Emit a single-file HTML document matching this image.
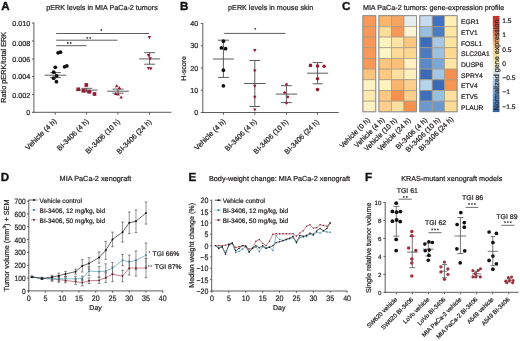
<!DOCTYPE html>
<html><head><meta charset="utf-8"><style>
html,body{margin:0;padding:0;background:#fff;}
svg{display:block;filter:blur(0.35px);}
text{font-family:"Liberation Sans",sans-serif;text-rendering:geometricPrecision;}
</style></head><body>
<svg width="520" height="341" viewBox="0 0 520 341">
<rect width="520" height="341" fill="#fff"/>
<text x="1.20" y="10.45" font-size="11.6" text-anchor="start" font-weight="bold" fill="#111" stroke="#111" stroke-width="0.35">A</text>
<text x="46.30" y="10.20" font-size="7.2" text-anchor="start" font-weight="normal" fill="#231f20" stroke="#231f20" stroke-width="0.22">pERK levels in MIA PaCa-2 tumors</text>
<line x1="33.90" y1="22.60" x2="33.90" y2="112.75" stroke="#4a4a4a" stroke-width="0.9"/>
<line x1="33.45" y1="112.30" x2="171.40" y2="112.30" stroke="#4a4a4a" stroke-width="0.9"/>
<line x1="31.90" y1="112.30" x2="33.90" y2="112.30" stroke="#4a4a4a" stroke-width="0.9"/>
<text x="30.20" y="114.65" font-size="7.2" text-anchor="end" font-weight="normal" fill="#231f20" stroke="#231f20" stroke-width="0.22">0</text>
<line x1="31.90" y1="94.50" x2="33.90" y2="94.50" stroke="#4a4a4a" stroke-width="0.9"/>
<text x="30.20" y="97.55" font-size="7.2" text-anchor="end" font-weight="normal" fill="#231f20" stroke="#231f20" stroke-width="0.22">0.002</text>
<line x1="31.90" y1="76.60" x2="33.90" y2="76.60" stroke="#4a4a4a" stroke-width="0.9"/>
<text x="30.20" y="78.55" font-size="7.2" text-anchor="end" font-weight="normal" fill="#231f20" stroke="#231f20" stroke-width="0.22">0.004</text>
<line x1="31.90" y1="59.00" x2="33.90" y2="59.00" stroke="#4a4a4a" stroke-width="0.9"/>
<text x="30.20" y="62.45" font-size="7.2" text-anchor="end" font-weight="normal" fill="#231f20" stroke="#231f20" stroke-width="0.22">0.006</text>
<line x1="31.90" y1="41.00" x2="33.90" y2="41.00" stroke="#4a4a4a" stroke-width="0.9"/>
<text x="30.20" y="45.55" font-size="7.2" text-anchor="end" font-weight="normal" fill="#231f20" stroke="#231f20" stroke-width="0.22">0.008</text>
<line x1="31.90" y1="23.00" x2="33.90" y2="23.00" stroke="#4a4a4a" stroke-width="0.9"/>
<text x="30.20" y="26.30" font-size="7.2" text-anchor="end" font-weight="normal" fill="#231f20" stroke="#231f20" stroke-width="0.22">0.010</text>
<line x1="55.30" y1="112.30" x2="55.30" y2="114.50" stroke="#4a4a4a" stroke-width="0.9"/>
<line x1="86.50" y1="112.30" x2="86.50" y2="114.50" stroke="#4a4a4a" stroke-width="0.9"/>
<line x1="117.90" y1="112.30" x2="117.90" y2="114.50" stroke="#4a4a4a" stroke-width="0.9"/>
<line x1="149.50" y1="112.30" x2="149.50" y2="114.50" stroke="#4a4a4a" stroke-width="0.9"/>
<text x="57.10" y="121.60" font-size="7.35" text-anchor="end" font-weight="normal" fill="#231f20" stroke="#231f20" stroke-width="0.22" transform="rotate(-45 57.10 121.60)">Vehicle (4 h)</text>
<text x="89.30" y="121.80" font-size="7.15" text-anchor="end" font-weight="normal" fill="#231f20" stroke="#231f20" stroke-width="0.22" transform="rotate(-45 89.30 121.80)">BI-3406 (4 h)</text>
<text x="120.50" y="122.00" font-size="7.15" text-anchor="end" font-weight="normal" fill="#231f20" stroke="#231f20" stroke-width="0.22" transform="rotate(-45 120.50 122.00)">BI-3406 (10 h)</text>
<text x="151.90" y="122.20" font-size="7.15" text-anchor="end" font-weight="normal" fill="#231f20" stroke="#231f20" stroke-width="0.22" transform="rotate(-45 151.90 122.20)">BI-3406 (24 h)</text>
<text x="6.20" y="67.30" font-size="7.3" text-anchor="middle" font-weight="normal" fill="#231f20" stroke="#231f20" stroke-width="0.22" transform="rotate(-90 6.20 67.30)">Ratio pERK/total ERK</text>
<line x1="56.20" y1="33.50" x2="149.00" y2="33.50" stroke="#4a4a4a" stroke-width="0.9"/>
<circle cx="101.30" cy="29.90" r="0.9" fill="#333"/>
<line x1="56.20" y1="40.20" x2="117.60" y2="40.20" stroke="#4a4a4a" stroke-width="0.9"/>
<circle cx="87.25" cy="37.80" r="0.9" fill="#333"/>
<circle cx="90.15" cy="37.80" r="0.9" fill="#333"/>
<line x1="56.20" y1="45.70" x2="86.60" y2="45.70" stroke="#4a4a4a" stroke-width="0.9"/>
<circle cx="67.75" cy="43.00" r="0.9" fill="#333"/>
<circle cx="70.65" cy="43.00" r="0.9" fill="#333"/>
<line x1="55.50" y1="72.60" x2="55.50" y2="77.60" stroke="#4a4a4a" stroke-width="0.9"/>
<line x1="50.20" y1="72.60" x2="60.80" y2="72.60" stroke="#4a4a4a" stroke-width="0.9"/>
<line x1="50.20" y1="77.60" x2="60.80" y2="77.60" stroke="#4a4a4a" stroke-width="0.9"/>
<line x1="44.70" y1="75.20" x2="66.30" y2="75.20" stroke="#4a4a4a" stroke-width="0.9"/>
<circle cx="58.10" cy="52.80" r="1.9" fill="#111"/>
<circle cx="60.40" cy="52.20" r="1.9" fill="#111"/>
<circle cx="64.60" cy="66.80" r="1.9" fill="#111"/>
<circle cx="66.80" cy="65.90" r="1.9" fill="#111"/>
<circle cx="55.30" cy="67.30" r="1.9" fill="#111"/>
<circle cx="53.70" cy="72.20" r="1.9" fill="#111"/>
<circle cx="56.70" cy="75.90" r="1.9" fill="#111"/>
<circle cx="53.70" cy="78.20" r="1.9" fill="#111"/>
<circle cx="56.40" cy="81.70" r="1.9" fill="#111"/>
<line x1="86.60" y1="88.30" x2="86.60" y2="91.80" stroke="#4a4a4a" stroke-width="0.9"/>
<line x1="81.30" y1="88.30" x2="91.90" y2="88.30" stroke="#4a4a4a" stroke-width="0.9"/>
<line x1="81.30" y1="91.80" x2="91.90" y2="91.80" stroke="#4a4a4a" stroke-width="0.9"/>
<line x1="75.80" y1="90.10" x2="97.40" y2="90.10" stroke="#4a4a4a" stroke-width="0.9"/>
<rect x="84.45" y="83.15" width="3.7" height="3.7" fill="#981a35"/>
<rect x="76.45" y="87.45" width="3.7" height="3.7" fill="#981a35"/>
<rect x="81.85" y="88.85" width="3.7" height="3.7" fill="#981a35"/>
<rect x="87.25" y="89.95" width="3.7" height="3.7" fill="#981a35"/>
<rect x="92.65" y="92.15" width="3.7" height="3.7" fill="#981a35"/>
<line x1="118.00" y1="89.10" x2="118.00" y2="93.20" stroke="#4a4a4a" stroke-width="0.9"/>
<line x1="112.50" y1="89.10" x2="123.50" y2="89.10" stroke="#4a4a4a" stroke-width="0.9"/>
<line x1="112.50" y1="93.20" x2="123.50" y2="93.20" stroke="#4a4a4a" stroke-width="0.9"/>
<line x1="107.20" y1="91.20" x2="128.80" y2="91.20" stroke="#4a4a4a" stroke-width="0.9"/>
<polygon points="114.95,87.17 118.45,87.17 116.70,84.02" fill="#981a35"/>
<polygon points="117.65,89.28 121.15,89.28 119.40,86.12" fill="#981a35"/>
<polygon points="114.05,95.08 117.55,95.08 115.80,91.92" fill="#981a35"/>
<polygon points="116.35,95.58 119.85,95.58 118.10,92.42" fill="#981a35"/>
<polygon points="119.35,98.58 122.85,98.58 121.10,95.42" fill="#981a35"/>
<line x1="149.60" y1="52.70" x2="149.60" y2="64.20" stroke="#4a4a4a" stroke-width="0.9"/>
<line x1="144.20" y1="52.70" x2="155.00" y2="52.70" stroke="#4a4a4a" stroke-width="0.9"/>
<line x1="144.20" y1="64.20" x2="155.00" y2="64.20" stroke="#4a4a4a" stroke-width="0.9"/>
<line x1="139.10" y1="58.90" x2="160.10" y2="58.90" stroke="#4a4a4a" stroke-width="0.9"/>
<polygon points="147.65,36.02 151.15,36.02 149.40,39.18" fill="#981a35"/>
<polygon points="146.75,54.02 150.25,54.02 148.50,57.18" fill="#981a35"/>
<polygon points="148.45,57.32 151.95,57.32 150.20,60.48" fill="#981a35"/>
<polygon points="146.75,66.92 150.25,66.92 148.50,70.08" fill="#981a35"/>
<polygon points="149.05,67.33 152.55,67.33 150.80,70.48" fill="#981a35"/>
<text x="179.90" y="10.45" font-size="11.6" text-anchor="start" font-weight="bold" fill="#111" stroke="#111" stroke-width="0.35">B</text>
<text x="228.10" y="10.20" font-size="7.2" text-anchor="start" font-weight="normal" fill="#231f20" stroke="#231f20" stroke-width="0.22">pERK levels in mouse skin</text>
<line x1="202.80" y1="23.00" x2="202.80" y2="112.95" stroke="#4a4a4a" stroke-width="0.9"/>
<line x1="202.35" y1="112.50" x2="338.70" y2="112.50" stroke="#4a4a4a" stroke-width="0.9"/>
<line x1="200.80" y1="112.50" x2="202.80" y2="112.50" stroke="#4a4a4a" stroke-width="0.9"/>
<text x="198.30" y="115.05" font-size="7.2" text-anchor="end" font-weight="normal" fill="#231f20" stroke="#231f20" stroke-width="0.22">0</text>
<line x1="200.80" y1="90.25" x2="202.80" y2="90.25" stroke="#4a4a4a" stroke-width="0.9"/>
<text x="198.30" y="92.80" font-size="7.2" text-anchor="end" font-weight="normal" fill="#231f20" stroke="#231f20" stroke-width="0.22">10</text>
<line x1="200.80" y1="68.00" x2="202.80" y2="68.00" stroke="#4a4a4a" stroke-width="0.9"/>
<text x="198.30" y="70.55" font-size="7.2" text-anchor="end" font-weight="normal" fill="#231f20" stroke="#231f20" stroke-width="0.22">20</text>
<line x1="200.80" y1="45.75" x2="202.80" y2="45.75" stroke="#4a4a4a" stroke-width="0.9"/>
<text x="198.30" y="48.30" font-size="7.2" text-anchor="end" font-weight="normal" fill="#231f20" stroke="#231f20" stroke-width="0.22">30</text>
<line x1="200.80" y1="23.50" x2="202.80" y2="23.50" stroke="#4a4a4a" stroke-width="0.9"/>
<text x="198.30" y="26.05" font-size="7.2" text-anchor="end" font-weight="normal" fill="#231f20" stroke="#231f20" stroke-width="0.22">40</text>
<line x1="223.50" y1="112.50" x2="223.50" y2="114.70" stroke="#4a4a4a" stroke-width="0.9"/>
<line x1="254.80" y1="112.50" x2="254.80" y2="114.70" stroke="#4a4a4a" stroke-width="0.9"/>
<line x1="286.40" y1="112.50" x2="286.40" y2="114.70" stroke="#4a4a4a" stroke-width="0.9"/>
<line x1="317.50" y1="112.50" x2="317.50" y2="114.70" stroke="#4a4a4a" stroke-width="0.9"/>
<text x="226.10" y="121.80" font-size="7.35" text-anchor="end" font-weight="normal" fill="#231f20" stroke="#231f20" stroke-width="0.22" transform="rotate(-45 226.10 121.80)">Vehicle (4 h)</text>
<text x="257.20" y="122.00" font-size="7.15" text-anchor="end" font-weight="normal" fill="#231f20" stroke="#231f20" stroke-width="0.22" transform="rotate(-45 257.20 122.00)">BI-3406 (4 h)</text>
<text x="288.60" y="122.20" font-size="7.15" text-anchor="end" font-weight="normal" fill="#231f20" stroke="#231f20" stroke-width="0.22" transform="rotate(-45 288.60 122.20)">BI-3406 (10 h)</text>
<text x="319.50" y="122.40" font-size="7.15" text-anchor="end" font-weight="normal" fill="#231f20" stroke="#231f20" stroke-width="0.22" transform="rotate(-45 319.50 122.40)">BI-3406 (24 h)</text>
<text x="185.80" y="68.40" font-size="7.0" text-anchor="middle" font-weight="normal" fill="#231f20" stroke="#231f20" stroke-width="0.22" transform="rotate(-90 185.80 68.40)">H-score</text>
<line x1="224.20" y1="33.40" x2="285.40" y2="33.40" stroke="#4a4a4a" stroke-width="0.9"/>
<circle cx="255.30" cy="28.80" r="0.9" fill="#333"/>
<line x1="223.40" y1="40.20" x2="223.40" y2="77.40" stroke="#4a4a4a" stroke-width="0.9"/>
<line x1="217.90" y1="40.20" x2="228.90" y2="40.20" stroke="#4a4a4a" stroke-width="0.9"/>
<line x1="217.90" y1="77.40" x2="228.90" y2="77.40" stroke="#4a4a4a" stroke-width="0.9"/>
<line x1="212.90" y1="59.00" x2="233.90" y2="59.00" stroke="#4a4a4a" stroke-width="0.9"/>
<circle cx="223.40" cy="41.20" r="1.85" fill="#111"/>
<circle cx="221.40" cy="47.90" r="1.85" fill="#111"/>
<circle cx="225.60" cy="48.70" r="1.85" fill="#111"/>
<circle cx="223.40" cy="70.20" r="1.85" fill="#111"/>
<circle cx="223.40" cy="85.80" r="1.85" fill="#111"/>
<line x1="254.80" y1="60.50" x2="254.80" y2="106.50" stroke="#4a4a4a" stroke-width="0.9"/>
<line x1="249.50" y1="60.50" x2="260.10" y2="60.50" stroke="#4a4a4a" stroke-width="0.9"/>
<line x1="249.50" y1="106.50" x2="260.10" y2="106.50" stroke="#4a4a4a" stroke-width="0.9"/>
<line x1="244.10" y1="83.50" x2="265.50" y2="83.50" stroke="#4a4a4a" stroke-width="0.9"/>
<polygon points="253.00,48.98 256.60,48.98 254.80,52.22" fill="#981a35"/>
<polygon points="253.00,69.38 256.60,69.38 254.80,72.62" fill="#981a35"/>
<polygon points="253.00,84.68 256.60,84.68 254.80,87.92" fill="#981a35"/>
<polygon points="253.00,95.78 256.60,95.78 254.80,99.02" fill="#981a35"/>
<polygon points="253.00,108.38 256.60,108.38 254.80,111.62" fill="#981a35"/>
<line x1="286.40" y1="85.70" x2="286.40" y2="102.60" stroke="#4a4a4a" stroke-width="0.9"/>
<line x1="281.00" y1="85.70" x2="291.80" y2="85.70" stroke="#4a4a4a" stroke-width="0.9"/>
<line x1="281.00" y1="102.60" x2="291.80" y2="102.60" stroke="#4a4a4a" stroke-width="0.9"/>
<line x1="275.70" y1="94.10" x2="297.10" y2="94.10" stroke="#4a4a4a" stroke-width="0.9"/>
<polygon points="286.5,82.64999999999999 288.15,84.3 286.5,85.95 284.85,84.3" fill="#981a35"/>
<polygon points="284.6,91.05 286.25,92.7 284.6,94.35000000000001 282.95000000000005,92.7" fill="#981a35"/>
<polygon points="287.9,95.25 289.54999999999995,96.9 287.9,98.55000000000001 286.25,96.9" fill="#981a35"/>
<polygon points="286.5,101.35 288.15,103 286.5,104.65 284.85,103" fill="#981a35"/>
<line x1="317.60" y1="62.60" x2="317.60" y2="83.80" stroke="#4a4a4a" stroke-width="0.9"/>
<line x1="312.60" y1="62.60" x2="322.60" y2="62.60" stroke="#4a4a4a" stroke-width="0.9"/>
<line x1="312.60" y1="83.80" x2="322.60" y2="83.80" stroke="#4a4a4a" stroke-width="0.9"/>
<line x1="307.10" y1="73.20" x2="328.10" y2="73.20" stroke="#4a4a4a" stroke-width="0.9"/>
<circle cx="310.50" cy="65.40" r="1.8" fill="#981a35"/>
<circle cx="317.50" cy="66.00" r="1.8" fill="#981a35"/>
<circle cx="324.10" cy="66.20" r="1.8" fill="#981a35"/>
<circle cx="317.50" cy="78.80" r="1.8" fill="#981a35"/>
<circle cx="317.50" cy="89.60" r="1.8" fill="#981a35"/>
<text x="342.00" y="10.45" font-size="11.6" text-anchor="start" font-weight="bold" fill="#111" stroke="#111" stroke-width="0.35">C</text>
<text x="362.90" y="10.20" font-size="7.2" text-anchor="start" font-weight="normal" fill="#231f20" stroke="#231f20" stroke-width="0.22">MIA PaCa-2 tumors: gene-expression profile</text>
<rect x="362.90" y="15.70" width="12.90" height="10.68" fill="#f7985a" stroke="#a89a84" stroke-width="0.7"/>
<rect x="362.90" y="26.38" width="12.90" height="10.68" fill="#f7985a" stroke="#a89a84" stroke-width="0.7"/>
<rect x="362.90" y="37.06" width="12.90" height="10.68" fill="#f7985a" stroke="#a89a84" stroke-width="0.7"/>
<rect x="362.90" y="47.74" width="12.90" height="10.68" fill="#f7985a" stroke="#a89a84" stroke-width="0.7"/>
<rect x="362.90" y="58.42" width="12.90" height="10.68" fill="#f7985a" stroke="#a89a84" stroke-width="0.7"/>
<rect x="362.90" y="69.10" width="12.90" height="10.68" fill="#fbc47e" stroke="#a89a84" stroke-width="0.7"/>
<rect x="362.90" y="79.78" width="12.90" height="10.68" fill="#fef2c4" stroke="#a89a84" stroke-width="0.7"/>
<rect x="362.90" y="90.46" width="12.90" height="10.68" fill="#fde9b0" stroke="#a89a84" stroke-width="0.7"/>
<rect x="362.90" y="101.14" width="12.90" height="10.68" fill="#fef2c4" stroke="#a89a84" stroke-width="0.7"/>
<rect x="362.90" y="15.70" width="12.90" height="96.12" fill="none" stroke="#8a8a8a" stroke-width="0.8"/>
<rect x="378.90" y="15.70" width="12.55" height="10.68" fill="#fab46e" stroke="#a89a84" stroke-width="0.7"/>
<rect x="391.45" y="15.70" width="12.55" height="10.68" fill="#f7a463" stroke="#a89a84" stroke-width="0.7"/>
<rect x="404.00" y="15.70" width="12.55" height="10.68" fill="#e4eef0" stroke="#a89a84" stroke-width="0.7"/>
<rect x="378.90" y="26.38" width="12.55" height="10.68" fill="#fcdc98" stroke="#a89a84" stroke-width="0.7"/>
<rect x="391.45" y="26.38" width="12.55" height="10.68" fill="#f6985a" stroke="#a89a84" stroke-width="0.7"/>
<rect x="404.00" y="26.38" width="12.55" height="10.68" fill="#fbf5d5" stroke="#a89a84" stroke-width="0.7"/>
<rect x="378.90" y="37.06" width="12.55" height="10.68" fill="#fef2be" stroke="#a89a84" stroke-width="0.7"/>
<rect x="391.45" y="37.06" width="12.55" height="10.68" fill="#fde4a4" stroke="#a89a84" stroke-width="0.7"/>
<rect x="404.00" y="37.06" width="12.55" height="10.68" fill="#fbc680" stroke="#a89a84" stroke-width="0.7"/>
<rect x="378.90" y="47.74" width="12.55" height="10.68" fill="#fef4c6" stroke="#a89a84" stroke-width="0.7"/>
<rect x="391.45" y="47.74" width="12.55" height="10.68" fill="#fdda98" stroke="#a89a84" stroke-width="0.7"/>
<rect x="404.00" y="47.74" width="12.55" height="10.68" fill="#fcd890" stroke="#a89a84" stroke-width="0.7"/>
<rect x="378.90" y="58.42" width="12.55" height="10.68" fill="#fcc580" stroke="#a89a84" stroke-width="0.7"/>
<rect x="391.45" y="58.42" width="12.55" height="10.68" fill="#fbbf7a" stroke="#a89a84" stroke-width="0.7"/>
<rect x="404.00" y="58.42" width="12.55" height="10.68" fill="#fef0c0" stroke="#a89a84" stroke-width="0.7"/>
<rect x="378.90" y="69.10" width="12.55" height="10.68" fill="#fcc884" stroke="#a89a84" stroke-width="0.7"/>
<rect x="391.45" y="69.10" width="12.55" height="10.68" fill="#fde0a0" stroke="#a89a84" stroke-width="0.7"/>
<rect x="404.00" y="69.10" width="12.55" height="10.68" fill="#fef0be" stroke="#a89a84" stroke-width="0.7"/>
<rect x="378.90" y="79.78" width="12.55" height="10.68" fill="#fef3c0" stroke="#a89a84" stroke-width="0.7"/>
<rect x="391.45" y="79.78" width="12.55" height="10.68" fill="#f9b46e" stroke="#a89a84" stroke-width="0.7"/>
<rect x="404.00" y="79.78" width="12.55" height="10.68" fill="#fcd08c" stroke="#a89a84" stroke-width="0.7"/>
<rect x="378.90" y="90.46" width="12.55" height="10.68" fill="#fcc884" stroke="#a89a84" stroke-width="0.7"/>
<rect x="391.45" y="90.46" width="12.55" height="10.68" fill="#f7904e" stroke="#a89a84" stroke-width="0.7"/>
<rect x="404.00" y="90.46" width="12.55" height="10.68" fill="#fcd08c" stroke="#a89a84" stroke-width="0.7"/>
<rect x="378.90" y="101.14" width="12.55" height="10.68" fill="#fcd08c" stroke="#a89a84" stroke-width="0.7"/>
<rect x="391.45" y="101.14" width="12.55" height="10.68" fill="#fde0a0" stroke="#a89a84" stroke-width="0.7"/>
<rect x="404.00" y="101.14" width="12.55" height="10.68" fill="#f7904e" stroke="#a89a84" stroke-width="0.7"/>
<rect x="378.90" y="15.70" width="37.65" height="96.12" fill="none" stroke="#8a8a8a" stroke-width="0.8"/>
<rect x="419.80" y="15.70" width="12.43" height="10.68" fill="#c6dcee" stroke="#a89a84" stroke-width="0.7"/>
<rect x="432.23" y="15.70" width="12.43" height="10.68" fill="#3f72c0" stroke="#a89a84" stroke-width="0.7"/>
<rect x="444.66" y="15.70" width="12.43" height="10.68" fill="#fef0b4" stroke="#a89a84" stroke-width="0.7"/>
<rect x="419.80" y="26.38" width="12.43" height="10.68" fill="#98bee0" stroke="#a89a84" stroke-width="0.7"/>
<rect x="432.23" y="26.38" width="12.43" height="10.68" fill="#4a7cc4" stroke="#a89a84" stroke-width="0.7"/>
<rect x="444.66" y="26.38" width="12.43" height="10.68" fill="#fde6a4" stroke="#a89a84" stroke-width="0.7"/>
<rect x="419.80" y="37.06" width="12.43" height="10.68" fill="#3c6cbc" stroke="#a89a84" stroke-width="0.7"/>
<rect x="432.23" y="37.06" width="12.43" height="10.68" fill="#a8c8e4" stroke="#a89a84" stroke-width="0.7"/>
<rect x="444.66" y="37.06" width="12.43" height="10.68" fill="#fde4a0" stroke="#a89a84" stroke-width="0.7"/>
<rect x="419.80" y="47.74" width="12.43" height="10.68" fill="#4c7cc0" stroke="#a89a84" stroke-width="0.7"/>
<rect x="432.23" y="47.74" width="12.43" height="10.68" fill="#9cc0e0" stroke="#a89a84" stroke-width="0.7"/>
<rect x="444.66" y="47.74" width="12.43" height="10.68" fill="#fcd890" stroke="#a89a84" stroke-width="0.7"/>
<rect x="419.80" y="58.42" width="12.43" height="10.68" fill="#5a88c8" stroke="#a89a84" stroke-width="0.7"/>
<rect x="432.23" y="58.42" width="12.43" height="10.68" fill="#7aa8d8" stroke="#a89a84" stroke-width="0.7"/>
<rect x="444.66" y="58.42" width="12.43" height="10.68" fill="#fde6a4" stroke="#a89a84" stroke-width="0.7"/>
<rect x="419.80" y="69.10" width="12.43" height="10.68" fill="#3a6ab8" stroke="#a89a84" stroke-width="0.7"/>
<rect x="432.23" y="69.10" width="12.43" height="10.68" fill="#a4c6e4" stroke="#a89a84" stroke-width="0.7"/>
<rect x="444.66" y="69.10" width="12.43" height="10.68" fill="#f7904e" stroke="#a89a84" stroke-width="0.7"/>
<rect x="419.80" y="79.78" width="12.43" height="10.68" fill="#b4d4ec" stroke="#a89a84" stroke-width="0.7"/>
<rect x="432.23" y="79.78" width="12.43" height="10.68" fill="#3a6ab8" stroke="#a89a84" stroke-width="0.7"/>
<rect x="444.66" y="79.78" width="12.43" height="10.68" fill="#f7944e" stroke="#a89a84" stroke-width="0.7"/>
<rect x="419.80" y="90.46" width="12.43" height="10.68" fill="#3e70bc" stroke="#a89a84" stroke-width="0.7"/>
<rect x="432.23" y="90.46" width="12.43" height="10.68" fill="#98c0e0" stroke="#a89a84" stroke-width="0.7"/>
<rect x="444.66" y="90.46" width="12.43" height="10.68" fill="#fde0a0" stroke="#a89a84" stroke-width="0.7"/>
<rect x="419.80" y="101.14" width="12.43" height="10.68" fill="#6c98d0" stroke="#a89a84" stroke-width="0.7"/>
<rect x="432.23" y="101.14" width="12.43" height="10.68" fill="#6c98d0" stroke="#a89a84" stroke-width="0.7"/>
<rect x="444.66" y="101.14" width="12.43" height="10.68" fill="#fddc98" stroke="#a89a84" stroke-width="0.7"/>
<rect x="419.80" y="15.70" width="37.29" height="96.12" fill="none" stroke="#8a8a8a" stroke-width="0.8"/>
<text x="461.00" y="24.14" font-size="6.7" text-anchor="start" font-weight="normal" fill="#231f20" stroke="#231f20" stroke-width="0.22">EGR1</text>
<text x="461.00" y="34.82" font-size="6.7" text-anchor="start" font-weight="normal" fill="#231f20" stroke="#231f20" stroke-width="0.22">ETV1</text>
<text x="461.00" y="45.50" font-size="6.7" text-anchor="start" font-weight="normal" fill="#231f20" stroke="#231f20" stroke-width="0.22">FOSL1</text>
<text x="461.00" y="56.18" font-size="6.7" text-anchor="start" font-weight="normal" fill="#231f20" stroke="#231f20" stroke-width="0.22">SLC20A1</text>
<text x="461.00" y="66.86" font-size="6.7" text-anchor="start" font-weight="normal" fill="#231f20" stroke="#231f20" stroke-width="0.22">DUSP6</text>
<text x="461.00" y="77.54" font-size="6.7" text-anchor="start" font-weight="normal" fill="#231f20" stroke="#231f20" stroke-width="0.22">SPRY4</text>
<text x="461.00" y="88.22" font-size="6.7" text-anchor="start" font-weight="normal" fill="#231f20" stroke="#231f20" stroke-width="0.22">ETV4</text>
<text x="461.00" y="98.90" font-size="6.7" text-anchor="start" font-weight="normal" fill="#231f20" stroke="#231f20" stroke-width="0.22">ETV5</text>
<text x="461.00" y="109.58" font-size="6.7" text-anchor="start" font-weight="normal" fill="#231f20" stroke="#231f20" stroke-width="0.22">PLAUR</text>
<defs><linearGradient id="cb" x1="0" y1="0" x2="0" y2="1"><stop offset="0" stop-color="#c0302e"/><stop offset="0.1" stop-color="#cf4a3a"/><stop offset="0.22" stop-color="#e58c5e"/><stop offset="0.33" stop-color="#f3cc8c"/><stop offset="0.45" stop-color="#f4e8a4"/><stop offset="0.52" stop-color="#eef0d4"/><stop offset="0.6" stop-color="#d0e0ec"/><stop offset="0.7" stop-color="#a0c0e0"/><stop offset="0.85" stop-color="#6090c8"/><stop offset="1" stop-color="#3060a8"/></linearGradient></defs>
<rect x="492.8" y="15.9" width="6.7" height="96.2" fill="url(#cb)"/>
<text x="498.90" y="65.00" font-size="7.2" text-anchor="middle" font-weight="normal" fill="#2a2a2a" stroke="#2a2a2a" stroke-width="0.22" transform="rotate(-90 498.90 65.00)">Normalized gene expression</text>
<text x="502.30" y="23.40" font-size="6.7" text-anchor="start" font-weight="normal" fill="#231f20" stroke="#231f20" stroke-width="0.22">1.5</text>
<text x="502.30" y="37.00" font-size="6.7" text-anchor="start" font-weight="normal" fill="#231f20" stroke="#231f20" stroke-width="0.22">1</text>
<text x="502.30" y="51.60" font-size="6.7" text-anchor="start" font-weight="normal" fill="#231f20" stroke="#231f20" stroke-width="0.22">0.5</text>
<text x="502.30" y="65.90" font-size="6.7" text-anchor="start" font-weight="normal" fill="#231f20" stroke="#231f20" stroke-width="0.22">0</text>
<text x="502.30" y="80.00" font-size="6.7" text-anchor="start" font-weight="normal" fill="#231f20" stroke="#231f20" stroke-width="0.22">−0.5</text>
<text x="502.30" y="94.10" font-size="6.7" text-anchor="start" font-weight="normal" fill="#231f20" stroke="#231f20" stroke-width="0.22">−1</text>
<text x="502.30" y="108.60" font-size="6.7" text-anchor="start" font-weight="normal" fill="#231f20" stroke="#231f20" stroke-width="0.22">−1.5</text>
<text x="370.35" y="120.60" font-size="7.1" text-anchor="end" font-weight="normal" fill="#231f20" stroke="#231f20" stroke-width="0.22" transform="rotate(-45 370.35 120.60)">Vehicle (0 h)</text>
<text x="385.00" y="120.30" font-size="7.1" text-anchor="end" font-weight="normal" fill="#231f20" stroke="#231f20" stroke-width="0.22" transform="rotate(-45 385.00 120.30)">Vehicle (4 h)</text>
<text x="397.50" y="120.80" font-size="7.1" text-anchor="end" font-weight="normal" fill="#231f20" stroke="#231f20" stroke-width="0.22" transform="rotate(-45 397.50 120.80)">Vehicle (10 h)</text>
<text x="411.10" y="120.80" font-size="7.1" text-anchor="end" font-weight="normal" fill="#231f20" stroke="#231f20" stroke-width="0.22" transform="rotate(-45 411.10 120.80)">Vehicle (24 h)</text>
<text x="427.80" y="120.50" font-size="7.1" text-anchor="end" font-weight="normal" fill="#231f20" stroke="#231f20" stroke-width="0.22" transform="rotate(-45 427.80 120.50)">BI-3406 (4 h)</text>
<text x="440.70" y="120.30" font-size="7.1" text-anchor="end" font-weight="normal" fill="#231f20" stroke="#231f20" stroke-width="0.22" transform="rotate(-45 440.70 120.30)">BI-3406 (10 h)</text>
<text x="453.70" y="119.50" font-size="7.1" text-anchor="end" font-weight="normal" fill="#231f20" stroke="#231f20" stroke-width="0.22" transform="rotate(-45 453.70 119.50)">BI-3406 (24 h)</text>
<text x="0.70" y="180.90" font-size="11.6" text-anchor="start" font-weight="bold" fill="#111" stroke="#111" stroke-width="0.35">D</text>
<text x="59.60" y="180.80" font-size="7.3" text-anchor="start" font-weight="normal" fill="#231f20" stroke="#231f20" stroke-width="0.22">MIA PaCa-2 xenograft</text>
<line x1="28.80" y1="199.80" x2="28.80" y2="291.35" stroke="#4a4a4a" stroke-width="0.9"/>
<line x1="28.35" y1="290.90" x2="163.10" y2="290.90" stroke="#4a4a4a" stroke-width="0.9"/>
<line x1="27.00" y1="290.90" x2="28.80" y2="290.90" stroke="#4a4a4a" stroke-width="0.9"/>
<text x="0.00" y="0.00" font-size="7.7" text-anchor="end" font-weight="normal" fill="#231f20" stroke="#231f20" stroke-width="0.22" transform="translate(25.60 293.90) scale(0.86 1)">0</text>
<line x1="27.00" y1="278.07" x2="28.80" y2="278.07" stroke="#4a4a4a" stroke-width="0.9"/>
<text x="0.00" y="0.00" font-size="7.7" text-anchor="end" font-weight="normal" fill="#231f20" stroke="#231f20" stroke-width="0.22" transform="translate(25.60 281.07) scale(0.86 1)">100</text>
<line x1="27.00" y1="265.24" x2="28.80" y2="265.24" stroke="#4a4a4a" stroke-width="0.9"/>
<text x="0.00" y="0.00" font-size="7.7" text-anchor="end" font-weight="normal" fill="#231f20" stroke="#231f20" stroke-width="0.22" transform="translate(25.60 268.24) scale(0.86 1)">200</text>
<line x1="27.00" y1="252.41" x2="28.80" y2="252.41" stroke="#4a4a4a" stroke-width="0.9"/>
<text x="0.00" y="0.00" font-size="7.7" text-anchor="end" font-weight="normal" fill="#231f20" stroke="#231f20" stroke-width="0.22" transform="translate(25.60 255.41) scale(0.86 1)">300</text>
<line x1="27.00" y1="239.58" x2="28.80" y2="239.58" stroke="#4a4a4a" stroke-width="0.9"/>
<text x="0.00" y="0.00" font-size="7.7" text-anchor="end" font-weight="normal" fill="#231f20" stroke="#231f20" stroke-width="0.22" transform="translate(25.60 242.58) scale(0.86 1)">400</text>
<line x1="27.00" y1="226.75" x2="28.80" y2="226.75" stroke="#4a4a4a" stroke-width="0.9"/>
<text x="0.00" y="0.00" font-size="7.7" text-anchor="end" font-weight="normal" fill="#231f20" stroke="#231f20" stroke-width="0.22" transform="translate(25.60 229.75) scale(0.86 1)">500</text>
<line x1="27.00" y1="213.92" x2="28.80" y2="213.92" stroke="#4a4a4a" stroke-width="0.9"/>
<text x="0.00" y="0.00" font-size="7.7" text-anchor="end" font-weight="normal" fill="#231f20" stroke="#231f20" stroke-width="0.22" transform="translate(25.60 216.92) scale(0.86 1)">600</text>
<line x1="27.00" y1="201.09" x2="28.80" y2="201.09" stroke="#4a4a4a" stroke-width="0.9"/>
<text x="0.00" y="0.00" font-size="7.7" text-anchor="end" font-weight="normal" fill="#231f20" stroke="#231f20" stroke-width="0.22" transform="translate(25.60 204.09) scale(0.86 1)">700</text>
<line x1="28.60" y1="290.90" x2="28.60" y2="292.70" stroke="#4a4a4a" stroke-width="0.9"/>
<text x="0.00" y="0.00" font-size="8.0" text-anchor="middle" font-weight="normal" fill="#231f20" stroke="#231f20" stroke-width="0.22" transform="translate(28.60 300.90) scale(0.89 1)">0</text>
<line x1="45.38" y1="290.90" x2="45.38" y2="292.70" stroke="#4a4a4a" stroke-width="0.9"/>
<text x="0.00" y="0.00" font-size="8.0" text-anchor="middle" font-weight="normal" fill="#231f20" stroke="#231f20" stroke-width="0.22" transform="translate(45.38 300.90) scale(0.89 1)">5</text>
<line x1="62.15" y1="290.90" x2="62.15" y2="292.70" stroke="#4a4a4a" stroke-width="0.9"/>
<text x="0.00" y="0.00" font-size="8.0" text-anchor="middle" font-weight="normal" fill="#231f20" stroke="#231f20" stroke-width="0.22" transform="translate(62.15 300.90) scale(0.89 1)">10</text>
<line x1="78.93" y1="290.90" x2="78.93" y2="292.70" stroke="#4a4a4a" stroke-width="0.9"/>
<text x="0.00" y="0.00" font-size="8.0" text-anchor="middle" font-weight="normal" fill="#231f20" stroke="#231f20" stroke-width="0.22" transform="translate(78.93 300.90) scale(0.89 1)">15</text>
<line x1="95.70" y1="290.90" x2="95.70" y2="292.70" stroke="#4a4a4a" stroke-width="0.9"/>
<text x="0.00" y="0.00" font-size="8.0" text-anchor="middle" font-weight="normal" fill="#231f20" stroke="#231f20" stroke-width="0.22" transform="translate(95.70 300.90) scale(0.89 1)">20</text>
<line x1="112.47" y1="290.90" x2="112.47" y2="292.70" stroke="#4a4a4a" stroke-width="0.9"/>
<text x="0.00" y="0.00" font-size="8.0" text-anchor="middle" font-weight="normal" fill="#231f20" stroke="#231f20" stroke-width="0.22" transform="translate(112.47 300.90) scale(0.89 1)">25</text>
<line x1="129.25" y1="290.90" x2="129.25" y2="292.70" stroke="#4a4a4a" stroke-width="0.9"/>
<text x="0.00" y="0.00" font-size="8.0" text-anchor="middle" font-weight="normal" fill="#231f20" stroke="#231f20" stroke-width="0.22" transform="translate(129.25 300.90) scale(0.89 1)">30</text>
<line x1="146.03" y1="290.90" x2="146.03" y2="292.70" stroke="#4a4a4a" stroke-width="0.9"/>
<text x="0.00" y="0.00" font-size="8.0" text-anchor="middle" font-weight="normal" fill="#231f20" stroke="#231f20" stroke-width="0.22" transform="translate(146.03 300.90) scale(0.89 1)">35</text>
<line x1="162.80" y1="290.90" x2="162.80" y2="292.70" stroke="#4a4a4a" stroke-width="0.9"/>
<text x="0.00" y="0.00" font-size="8.0" text-anchor="middle" font-weight="normal" fill="#231f20" stroke="#231f20" stroke-width="0.22" transform="translate(162.80 300.90) scale(0.89 1)">40</text>
<text x="95.60" y="309.70" font-size="7.0" text-anchor="middle" font-weight="normal" fill="#231f20" stroke="#231f20" stroke-width="0.22">Day</text>
<text x="9.1" y="245.5" font-size="7.3" text-anchor="middle" fill="#231f20" stroke="#231f20" stroke-width="0.22" transform="rotate(-90 9.1 245.5)">Tumor volume (mm<tspan font-size="4.6" dy="-2.6">3</tspan><tspan dy="2.6">) + SEM</tspan></text>
<line x1="31.96" y1="276.27" x2="31.96" y2="277.56" stroke="#666" stroke-width="0.7"/>
<line x1="30.66" y1="276.27" x2="33.26" y2="276.27" stroke="#555" stroke-width="0.7"/>
<line x1="30.66" y1="277.56" x2="33.26" y2="277.56" stroke="#555" stroke-width="0.7"/>
<line x1="42.02" y1="277.43" x2="42.02" y2="279.48" stroke="#666" stroke-width="0.7"/>
<line x1="40.72" y1="277.43" x2="43.32" y2="277.43" stroke="#555" stroke-width="0.7"/>
<line x1="40.72" y1="279.48" x2="43.32" y2="279.48" stroke="#555" stroke-width="0.7"/>
<line x1="52.09" y1="276.92" x2="52.09" y2="280.76" stroke="#666" stroke-width="0.7"/>
<line x1="50.79" y1="276.92" x2="53.38" y2="276.92" stroke="#555" stroke-width="0.7"/>
<line x1="50.79" y1="280.76" x2="53.38" y2="280.76" stroke="#555" stroke-width="0.7"/>
<line x1="58.80" y1="276.92" x2="58.80" y2="282.30" stroke="#666" stroke-width="0.7"/>
<line x1="57.50" y1="276.92" x2="60.09" y2="276.92" stroke="#555" stroke-width="0.7"/>
<line x1="57.50" y1="282.30" x2="60.09" y2="282.30" stroke="#555" stroke-width="0.7"/>
<line x1="65.50" y1="277.94" x2="65.50" y2="282.82" stroke="#666" stroke-width="0.7"/>
<line x1="64.20" y1="277.94" x2="66.80" y2="277.94" stroke="#555" stroke-width="0.7"/>
<line x1="64.20" y1="282.82" x2="66.80" y2="282.82" stroke="#555" stroke-width="0.7"/>
<line x1="75.57" y1="278.97" x2="75.57" y2="284.36" stroke="#666" stroke-width="0.7"/>
<line x1="74.27" y1="278.97" x2="76.87" y2="278.97" stroke="#555" stroke-width="0.7"/>
<line x1="74.27" y1="284.36" x2="76.87" y2="284.36" stroke="#555" stroke-width="0.7"/>
<line x1="82.28" y1="279.61" x2="82.28" y2="285.77" stroke="#666" stroke-width="0.7"/>
<line x1="80.98" y1="279.61" x2="83.58" y2="279.61" stroke="#555" stroke-width="0.7"/>
<line x1="80.98" y1="285.77" x2="83.58" y2="285.77" stroke="#555" stroke-width="0.7"/>
<line x1="88.99" y1="277.94" x2="88.99" y2="283.59" stroke="#666" stroke-width="0.7"/>
<line x1="87.69" y1="277.94" x2="90.29" y2="277.94" stroke="#555" stroke-width="0.7"/>
<line x1="87.69" y1="283.59" x2="90.29" y2="283.59" stroke="#555" stroke-width="0.7"/>
<line x1="99.06" y1="277.43" x2="99.06" y2="283.33" stroke="#666" stroke-width="0.7"/>
<line x1="97.76" y1="277.43" x2="100.36" y2="277.43" stroke="#555" stroke-width="0.7"/>
<line x1="97.76" y1="283.33" x2="100.36" y2="283.33" stroke="#555" stroke-width="0.7"/>
<line x1="105.77" y1="272.68" x2="105.77" y2="282.43" stroke="#666" stroke-width="0.7"/>
<line x1="104.47" y1="272.68" x2="107.07" y2="272.68" stroke="#555" stroke-width="0.7"/>
<line x1="104.47" y1="282.43" x2="107.07" y2="282.43" stroke="#555" stroke-width="0.7"/>
<line x1="112.47" y1="267.04" x2="112.47" y2="281.66" stroke="#666" stroke-width="0.7"/>
<line x1="111.17" y1="267.04" x2="113.77" y2="267.04" stroke="#555" stroke-width="0.7"/>
<line x1="111.17" y1="281.66" x2="113.77" y2="281.66" stroke="#555" stroke-width="0.7"/>
<line x1="122.54" y1="270.37" x2="122.54" y2="281.66" stroke="#666" stroke-width="0.7"/>
<line x1="121.24" y1="270.37" x2="123.84" y2="270.37" stroke="#555" stroke-width="0.7"/>
<line x1="121.24" y1="281.66" x2="123.84" y2="281.66" stroke="#555" stroke-width="0.7"/>
<line x1="129.25" y1="261.13" x2="129.25" y2="274.99" stroke="#666" stroke-width="0.7"/>
<line x1="127.95" y1="261.13" x2="130.55" y2="261.13" stroke="#555" stroke-width="0.7"/>
<line x1="127.95" y1="274.99" x2="130.55" y2="274.99" stroke="#555" stroke-width="0.7"/>
<line x1="135.96" y1="260.11" x2="135.96" y2="276.02" stroke="#666" stroke-width="0.7"/>
<line x1="134.66" y1="260.11" x2="137.26" y2="260.11" stroke="#555" stroke-width="0.7"/>
<line x1="134.66" y1="276.02" x2="137.26" y2="276.02" stroke="#555" stroke-width="0.7"/>
<line x1="146.03" y1="258.44" x2="146.03" y2="277.69" stroke="#666" stroke-width="0.7"/>
<line x1="144.72" y1="258.44" x2="147.33" y2="258.44" stroke="#555" stroke-width="0.7"/>
<line x1="144.72" y1="277.69" x2="147.33" y2="277.69" stroke="#555" stroke-width="0.7"/>
<line x1="31.96" y1="276.27" x2="31.96" y2="277.56" stroke="#666" stroke-width="0.7"/>
<line x1="30.66" y1="276.27" x2="33.26" y2="276.27" stroke="#555" stroke-width="0.7"/>
<line x1="30.66" y1="277.56" x2="33.26" y2="277.56" stroke="#555" stroke-width="0.7"/>
<line x1="42.02" y1="277.43" x2="42.02" y2="279.48" stroke="#666" stroke-width="0.7"/>
<line x1="40.72" y1="277.43" x2="43.32" y2="277.43" stroke="#555" stroke-width="0.7"/>
<line x1="40.72" y1="279.48" x2="43.32" y2="279.48" stroke="#555" stroke-width="0.7"/>
<line x1="52.09" y1="276.53" x2="52.09" y2="281.15" stroke="#666" stroke-width="0.7"/>
<line x1="50.79" y1="276.53" x2="53.38" y2="276.53" stroke="#555" stroke-width="0.7"/>
<line x1="50.79" y1="281.15" x2="53.38" y2="281.15" stroke="#555" stroke-width="0.7"/>
<line x1="58.80" y1="276.53" x2="58.80" y2="281.15" stroke="#666" stroke-width="0.7"/>
<line x1="57.50" y1="276.53" x2="60.09" y2="276.53" stroke="#555" stroke-width="0.7"/>
<line x1="57.50" y1="281.15" x2="60.09" y2="281.15" stroke="#555" stroke-width="0.7"/>
<line x1="65.50" y1="276.53" x2="65.50" y2="281.15" stroke="#666" stroke-width="0.7"/>
<line x1="64.20" y1="276.53" x2="66.80" y2="276.53" stroke="#555" stroke-width="0.7"/>
<line x1="64.20" y1="281.15" x2="66.80" y2="281.15" stroke="#555" stroke-width="0.7"/>
<line x1="75.57" y1="276.53" x2="75.57" y2="281.15" stroke="#666" stroke-width="0.7"/>
<line x1="74.27" y1="276.53" x2="76.87" y2="276.53" stroke="#555" stroke-width="0.7"/>
<line x1="74.27" y1="281.15" x2="76.87" y2="281.15" stroke="#555" stroke-width="0.7"/>
<line x1="82.28" y1="276.15" x2="82.28" y2="280.76" stroke="#666" stroke-width="0.7"/>
<line x1="80.98" y1="276.15" x2="83.58" y2="276.15" stroke="#555" stroke-width="0.7"/>
<line x1="80.98" y1="280.76" x2="83.58" y2="280.76" stroke="#555" stroke-width="0.7"/>
<line x1="88.99" y1="266.65" x2="88.99" y2="275.63" stroke="#666" stroke-width="0.7"/>
<line x1="87.69" y1="266.65" x2="90.29" y2="266.65" stroke="#555" stroke-width="0.7"/>
<line x1="87.69" y1="275.63" x2="90.29" y2="275.63" stroke="#555" stroke-width="0.7"/>
<line x1="99.06" y1="266.39" x2="99.06" y2="276.92" stroke="#666" stroke-width="0.7"/>
<line x1="97.76" y1="266.39" x2="100.36" y2="266.39" stroke="#555" stroke-width="0.7"/>
<line x1="97.76" y1="276.92" x2="100.36" y2="276.92" stroke="#555" stroke-width="0.7"/>
<line x1="105.77" y1="263.83" x2="105.77" y2="278.45" stroke="#666" stroke-width="0.7"/>
<line x1="104.47" y1="263.83" x2="107.07" y2="263.83" stroke="#555" stroke-width="0.7"/>
<line x1="104.47" y1="278.45" x2="107.07" y2="278.45" stroke="#555" stroke-width="0.7"/>
<line x1="112.47" y1="262.42" x2="112.47" y2="273.71" stroke="#666" stroke-width="0.7"/>
<line x1="111.17" y1="262.42" x2="113.77" y2="262.42" stroke="#555" stroke-width="0.7"/>
<line x1="111.17" y1="273.71" x2="113.77" y2="273.71" stroke="#555" stroke-width="0.7"/>
<line x1="122.54" y1="254.46" x2="122.54" y2="265.75" stroke="#666" stroke-width="0.7"/>
<line x1="121.24" y1="254.46" x2="123.84" y2="254.46" stroke="#555" stroke-width="0.7"/>
<line x1="121.24" y1="265.75" x2="123.84" y2="265.75" stroke="#555" stroke-width="0.7"/>
<line x1="129.25" y1="255.10" x2="129.25" y2="268.96" stroke="#666" stroke-width="0.7"/>
<line x1="127.95" y1="255.10" x2="130.55" y2="255.10" stroke="#555" stroke-width="0.7"/>
<line x1="127.95" y1="268.96" x2="130.55" y2="268.96" stroke="#555" stroke-width="0.7"/>
<line x1="135.96" y1="251.00" x2="135.96" y2="269.73" stroke="#666" stroke-width="0.7"/>
<line x1="134.66" y1="251.00" x2="137.26" y2="251.00" stroke="#555" stroke-width="0.7"/>
<line x1="134.66" y1="269.73" x2="137.26" y2="269.73" stroke="#555" stroke-width="0.7"/>
<line x1="146.03" y1="243.04" x2="146.03" y2="267.16" stroke="#666" stroke-width="0.7"/>
<line x1="144.72" y1="243.04" x2="147.33" y2="243.04" stroke="#555" stroke-width="0.7"/>
<line x1="144.72" y1="267.16" x2="147.33" y2="267.16" stroke="#555" stroke-width="0.7"/>
<line x1="31.96" y1="276.27" x2="31.96" y2="277.56" stroke="#666" stroke-width="0.7"/>
<line x1="30.66" y1="276.27" x2="33.26" y2="276.27" stroke="#555" stroke-width="0.7"/>
<line x1="30.66" y1="277.56" x2="33.26" y2="277.56" stroke="#555" stroke-width="0.7"/>
<line x1="42.02" y1="277.43" x2="42.02" y2="279.48" stroke="#666" stroke-width="0.7"/>
<line x1="40.72" y1="277.43" x2="43.32" y2="277.43" stroke="#555" stroke-width="0.7"/>
<line x1="40.72" y1="279.48" x2="43.32" y2="279.48" stroke="#555" stroke-width="0.7"/>
<line x1="52.09" y1="275.25" x2="52.09" y2="279.10" stroke="#666" stroke-width="0.7"/>
<line x1="50.79" y1="275.25" x2="53.38" y2="275.25" stroke="#555" stroke-width="0.7"/>
<line x1="50.79" y1="279.10" x2="53.38" y2="279.10" stroke="#555" stroke-width="0.7"/>
<line x1="58.80" y1="273.19" x2="58.80" y2="278.07" stroke="#666" stroke-width="0.7"/>
<line x1="57.50" y1="273.19" x2="60.09" y2="273.19" stroke="#555" stroke-width="0.7"/>
<line x1="57.50" y1="278.07" x2="60.09" y2="278.07" stroke="#555" stroke-width="0.7"/>
<line x1="65.50" y1="271.40" x2="65.50" y2="276.53" stroke="#666" stroke-width="0.7"/>
<line x1="64.20" y1="271.40" x2="66.80" y2="271.40" stroke="#555" stroke-width="0.7"/>
<line x1="64.20" y1="276.53" x2="66.80" y2="276.53" stroke="#555" stroke-width="0.7"/>
<line x1="75.57" y1="269.09" x2="75.57" y2="274.22" stroke="#666" stroke-width="0.7"/>
<line x1="74.27" y1="269.09" x2="76.87" y2="269.09" stroke="#555" stroke-width="0.7"/>
<line x1="74.27" y1="274.22" x2="76.87" y2="274.22" stroke="#555" stroke-width="0.7"/>
<line x1="82.28" y1="259.72" x2="82.28" y2="272.04" stroke="#666" stroke-width="0.7"/>
<line x1="80.98" y1="259.72" x2="83.58" y2="259.72" stroke="#555" stroke-width="0.7"/>
<line x1="80.98" y1="272.04" x2="83.58" y2="272.04" stroke="#555" stroke-width="0.7"/>
<line x1="88.99" y1="257.67" x2="88.99" y2="269.22" stroke="#666" stroke-width="0.7"/>
<line x1="87.69" y1="257.67" x2="90.29" y2="257.67" stroke="#555" stroke-width="0.7"/>
<line x1="87.69" y1="269.22" x2="90.29" y2="269.22" stroke="#555" stroke-width="0.7"/>
<line x1="99.06" y1="251.90" x2="99.06" y2="263.19" stroke="#666" stroke-width="0.7"/>
<line x1="97.76" y1="251.90" x2="100.36" y2="251.90" stroke="#555" stroke-width="0.7"/>
<line x1="97.76" y1="263.19" x2="100.36" y2="263.19" stroke="#555" stroke-width="0.7"/>
<line x1="105.77" y1="241.38" x2="105.77" y2="259.34" stroke="#666" stroke-width="0.7"/>
<line x1="104.47" y1="241.38" x2="107.07" y2="241.38" stroke="#555" stroke-width="0.7"/>
<line x1="104.47" y1="259.34" x2="107.07" y2="259.34" stroke="#555" stroke-width="0.7"/>
<line x1="112.47" y1="232.14" x2="112.47" y2="246.76" stroke="#666" stroke-width="0.7"/>
<line x1="111.17" y1="232.14" x2="113.77" y2="232.14" stroke="#555" stroke-width="0.7"/>
<line x1="111.17" y1="246.76" x2="113.77" y2="246.76" stroke="#555" stroke-width="0.7"/>
<line x1="122.54" y1="222.13" x2="122.54" y2="242.15" stroke="#666" stroke-width="0.7"/>
<line x1="121.24" y1="222.13" x2="123.84" y2="222.13" stroke="#555" stroke-width="0.7"/>
<line x1="121.24" y1="242.15" x2="123.84" y2="242.15" stroke="#555" stroke-width="0.7"/>
<line x1="129.25" y1="212.00" x2="129.25" y2="233.55" stroke="#666" stroke-width="0.7"/>
<line x1="127.95" y1="212.00" x2="130.55" y2="212.00" stroke="#555" stroke-width="0.7"/>
<line x1="127.95" y1="233.55" x2="130.55" y2="233.55" stroke="#555" stroke-width="0.7"/>
<line x1="135.96" y1="209.94" x2="135.96" y2="232.52" stroke="#666" stroke-width="0.7"/>
<line x1="134.66" y1="209.94" x2="137.26" y2="209.94" stroke="#555" stroke-width="0.7"/>
<line x1="134.66" y1="232.52" x2="137.26" y2="232.52" stroke="#555" stroke-width="0.7"/>
<line x1="146.03" y1="201.99" x2="146.03" y2="224.06" stroke="#666" stroke-width="0.7"/>
<line x1="144.72" y1="201.99" x2="147.33" y2="201.99" stroke="#555" stroke-width="0.7"/>
<line x1="144.72" y1="224.06" x2="147.33" y2="224.06" stroke="#555" stroke-width="0.7"/>
<polyline points="31.96,276.92 42.02,278.45 52.09,278.84 58.80,279.61 65.50,280.38 75.57,281.66 82.28,282.69 88.99,280.76 99.06,280.38 105.77,277.56 112.47,274.35 122.54,276.02 129.25,268.06 135.96,268.06 146.03,268.06" fill="none" stroke="#a8505c" stroke-width="0.7" stroke-linejoin="round"/>
<circle cx="31.96" cy="276.92" r="0.9" fill="#6a2030"/>
<circle cx="42.02" cy="278.45" r="0.9" fill="#6a2030"/>
<circle cx="52.09" cy="278.84" r="0.9" fill="#6a2030"/>
<circle cx="58.80" cy="279.61" r="0.9" fill="#6a2030"/>
<circle cx="65.50" cy="280.38" r="0.9" fill="#6a2030"/>
<circle cx="75.57" cy="281.66" r="0.9" fill="#6a2030"/>
<circle cx="82.28" cy="282.69" r="0.9" fill="#6a2030"/>
<circle cx="88.99" cy="280.76" r="0.9" fill="#6a2030"/>
<circle cx="99.06" cy="280.38" r="0.9" fill="#6a2030"/>
<circle cx="105.77" cy="277.56" r="0.9" fill="#6a2030"/>
<circle cx="112.47" cy="274.35" r="0.9" fill="#6a2030"/>
<circle cx="122.54" cy="276.02" r="0.9" fill="#6a2030"/>
<circle cx="129.25" cy="268.06" r="0.9" fill="#6a2030"/>
<circle cx="135.96" cy="268.06" r="0.9" fill="#6a2030"/>
<circle cx="146.03" cy="268.06" r="0.9" fill="#6a2030"/>
<polyline points="31.96,276.92 42.02,278.45 52.09,278.84 58.80,278.84 65.50,278.84 75.57,278.84 82.28,278.45 88.99,271.14 99.06,271.65 105.77,271.14 112.47,268.06 122.54,260.11 129.25,262.03 135.96,260.36 146.03,255.10" fill="none" stroke="#5a9fb0" stroke-width="0.7" stroke-linejoin="round"/>
<circle cx="31.96" cy="276.92" r="0.9" fill="#3a7a8a"/>
<circle cx="42.02" cy="278.45" r="0.9" fill="#3a7a8a"/>
<circle cx="52.09" cy="278.84" r="0.9" fill="#3a7a8a"/>
<circle cx="58.80" cy="278.84" r="0.9" fill="#3a7a8a"/>
<circle cx="65.50" cy="278.84" r="0.9" fill="#3a7a8a"/>
<circle cx="75.57" cy="278.84" r="0.9" fill="#3a7a8a"/>
<circle cx="82.28" cy="278.45" r="0.9" fill="#3a7a8a"/>
<circle cx="88.99" cy="271.14" r="0.9" fill="#3a7a8a"/>
<circle cx="99.06" cy="271.65" r="0.9" fill="#3a7a8a"/>
<circle cx="105.77" cy="271.14" r="0.9" fill="#3a7a8a"/>
<circle cx="112.47" cy="268.06" r="0.9" fill="#3a7a8a"/>
<circle cx="122.54" cy="260.11" r="0.9" fill="#3a7a8a"/>
<circle cx="129.25" cy="262.03" r="0.9" fill="#3a7a8a"/>
<circle cx="135.96" cy="260.36" r="0.9" fill="#3a7a8a"/>
<circle cx="146.03" cy="255.10" r="0.9" fill="#3a7a8a"/>
<polyline points="31.96,276.92 42.02,278.45 52.09,277.17 58.80,275.63 65.50,273.96 75.57,271.65 82.28,265.88 88.99,263.44 99.06,257.54 105.77,250.36 112.47,239.45 122.54,232.14 129.25,222.77 135.96,221.23 146.03,213.02" fill="none" stroke="#222" stroke-width="0.7" stroke-linejoin="round"/>
<circle cx="31.96" cy="276.92" r="1.0" fill="#111"/>
<circle cx="42.02" cy="278.45" r="1.0" fill="#111"/>
<circle cx="52.09" cy="277.17" r="1.0" fill="#111"/>
<circle cx="58.80" cy="275.63" r="1.0" fill="#111"/>
<circle cx="65.50" cy="273.96" r="1.0" fill="#111"/>
<circle cx="75.57" cy="271.65" r="1.0" fill="#111"/>
<circle cx="82.28" cy="265.88" r="1.0" fill="#111"/>
<circle cx="88.99" cy="263.44" r="1.0" fill="#111"/>
<circle cx="99.06" cy="257.54" r="1.0" fill="#111"/>
<circle cx="105.77" cy="250.36" r="1.0" fill="#111"/>
<circle cx="112.47" cy="239.45" r="1.0" fill="#111"/>
<circle cx="122.54" cy="232.14" r="1.0" fill="#111"/>
<circle cx="129.25" cy="222.77" r="1.0" fill="#111"/>
<circle cx="135.96" cy="221.23" r="1.0" fill="#111"/>
<circle cx="146.03" cy="213.02" r="1.0" fill="#111"/>
<line x1="28.80" y1="200.00" x2="37.40" y2="200.00" stroke="#222" stroke-width="0.7"/>
<circle cx="33.90" cy="200.00" r="1.0" fill="#111"/>
<text x="39.60" y="203.20" font-size="6.5" text-anchor="start" font-weight="normal" fill="#231f20" stroke="#231f20" stroke-width="0.22">Vehicle control</text>
<line x1="31.00" y1="209.90" x2="37.40" y2="209.90" stroke="#8fc0cc" stroke-width="0.7"/>
<circle cx="33.90" cy="209.90" r="1.0" fill="#3a7a8a"/>
<text x="39.60" y="213.10" font-size="6.5" text-anchor="start" font-weight="normal" fill="#231f20" stroke="#231f20" stroke-width="0.22">BI-3406, 12 mg/kg, bid</text>
<line x1="31.00" y1="219.80" x2="37.40" y2="219.80" stroke="#c88890" stroke-width="0.7"/>
<circle cx="33.90" cy="219.80" r="1.0" fill="#5a2030"/>
<text x="39.60" y="223.00" font-size="6.5" text-anchor="start" font-weight="normal" fill="#231f20" stroke="#231f20" stroke-width="0.22">BI-3406, 50 mg/kg, bid</text>
<circle cx="149.30" cy="252.00" r="0.7" fill="#333"/>
<text x="152.50" y="255.60" font-size="6.8" text-anchor="start" font-weight="normal" fill="#231f20" stroke="#231f20" stroke-width="0.22">TGI 66%</text>
<circle cx="148.85" cy="266.00" r="0.7" fill="#333"/>
<circle cx="151.15" cy="266.00" r="0.7" fill="#333"/>
<text x="154.80" y="269.00" font-size="6.8" text-anchor="start" font-weight="normal" fill="#231f20" stroke="#231f20" stroke-width="0.22">TGI 87%</text>
<text x="188.40" y="180.90" font-size="11.6" text-anchor="start" font-weight="bold" fill="#111" stroke="#111" stroke-width="0.35">E</text>
<text x="209.00" y="180.90" font-size="7.25" text-anchor="start" font-weight="normal" fill="#231f20" stroke="#231f20" stroke-width="0.22">Body-weight change: MIA PaCa-2 xenograft</text>
<line x1="211.70" y1="200.00" x2="211.70" y2="291.45" stroke="#4a4a4a" stroke-width="0.9"/>
<line x1="211.25" y1="291.00" x2="347.42" y2="291.00" stroke="#4a4a4a" stroke-width="0.9"/>
<line x1="210.10" y1="291.00" x2="211.70" y2="291.00" stroke="#4a4a4a" stroke-width="0.9"/>
<text x="0.00" y="0.00" font-size="7.9" text-anchor="end" font-weight="normal" fill="#231f20" stroke="#231f20" stroke-width="0.22" transform="translate(208.30 294.00) scale(0.89 1)">−20</text>
<line x1="210.10" y1="279.65" x2="211.70" y2="279.65" stroke="#4a4a4a" stroke-width="0.9"/>
<text x="0.00" y="0.00" font-size="7.9" text-anchor="end" font-weight="normal" fill="#231f20" stroke="#231f20" stroke-width="0.22" transform="translate(208.30 282.65) scale(0.89 1)">−15</text>
<line x1="210.10" y1="268.30" x2="211.70" y2="268.30" stroke="#4a4a4a" stroke-width="0.9"/>
<text x="0.00" y="0.00" font-size="7.9" text-anchor="end" font-weight="normal" fill="#231f20" stroke="#231f20" stroke-width="0.22" transform="translate(208.30 271.30) scale(0.89 1)">−10</text>
<line x1="210.10" y1="256.95" x2="211.70" y2="256.95" stroke="#4a4a4a" stroke-width="0.9"/>
<text x="0.00" y="0.00" font-size="7.9" text-anchor="end" font-weight="normal" fill="#231f20" stroke="#231f20" stroke-width="0.22" transform="translate(208.30 259.95) scale(0.89 1)">−5</text>
<line x1="210.10" y1="245.60" x2="211.70" y2="245.60" stroke="#4a4a4a" stroke-width="0.9"/>
<text x="0.00" y="0.00" font-size="7.9" text-anchor="end" font-weight="normal" fill="#231f20" stroke="#231f20" stroke-width="0.22" transform="translate(208.30 248.60) scale(0.89 1)">0</text>
<line x1="210.10" y1="234.25" x2="211.70" y2="234.25" stroke="#4a4a4a" stroke-width="0.9"/>
<text x="0.00" y="0.00" font-size="7.9" text-anchor="end" font-weight="normal" fill="#231f20" stroke="#231f20" stroke-width="0.22" transform="translate(208.30 237.25) scale(0.89 1)">5</text>
<line x1="210.10" y1="222.90" x2="211.70" y2="222.90" stroke="#4a4a4a" stroke-width="0.9"/>
<text x="0.00" y="0.00" font-size="7.9" text-anchor="end" font-weight="normal" fill="#231f20" stroke="#231f20" stroke-width="0.22" transform="translate(208.30 225.90) scale(0.89 1)">10</text>
<line x1="210.10" y1="211.55" x2="211.70" y2="211.55" stroke="#4a4a4a" stroke-width="0.9"/>
<text x="0.00" y="0.00" font-size="7.9" text-anchor="end" font-weight="normal" fill="#231f20" stroke="#231f20" stroke-width="0.22" transform="translate(208.30 214.55) scale(0.89 1)">15</text>
<line x1="210.10" y1="200.20" x2="211.70" y2="200.20" stroke="#4a4a4a" stroke-width="0.9"/>
<text x="0.00" y="0.00" font-size="7.9" text-anchor="end" font-weight="normal" fill="#231f20" stroke="#231f20" stroke-width="0.22" transform="translate(208.30 203.20) scale(0.89 1)">20</text>
<line x1="212.00" y1="291.00" x2="212.00" y2="292.80" stroke="#4a4a4a" stroke-width="0.9"/>
<text x="0.00" y="0.00" font-size="8.0" text-anchor="middle" font-weight="normal" fill="#231f20" stroke="#231f20" stroke-width="0.22" transform="translate(212.00 300.70) scale(0.89 1)">0</text>
<line x1="228.89" y1="291.00" x2="228.89" y2="292.80" stroke="#4a4a4a" stroke-width="0.9"/>
<text x="0.00" y="0.00" font-size="8.0" text-anchor="middle" font-weight="normal" fill="#231f20" stroke="#231f20" stroke-width="0.22" transform="translate(228.89 300.70) scale(0.89 1)">5</text>
<line x1="245.78" y1="291.00" x2="245.78" y2="292.80" stroke="#4a4a4a" stroke-width="0.9"/>
<text x="0.00" y="0.00" font-size="8.0" text-anchor="middle" font-weight="normal" fill="#231f20" stroke="#231f20" stroke-width="0.22" transform="translate(245.78 300.70) scale(0.89 1)">10</text>
<line x1="262.67" y1="291.00" x2="262.67" y2="292.80" stroke="#4a4a4a" stroke-width="0.9"/>
<text x="0.00" y="0.00" font-size="8.0" text-anchor="middle" font-weight="normal" fill="#231f20" stroke="#231f20" stroke-width="0.22" transform="translate(262.67 300.70) scale(0.89 1)">15</text>
<line x1="279.56" y1="291.00" x2="279.56" y2="292.80" stroke="#4a4a4a" stroke-width="0.9"/>
<text x="0.00" y="0.00" font-size="8.0" text-anchor="middle" font-weight="normal" fill="#231f20" stroke="#231f20" stroke-width="0.22" transform="translate(279.56 300.70) scale(0.89 1)">20</text>
<line x1="296.45" y1="291.00" x2="296.45" y2="292.80" stroke="#4a4a4a" stroke-width="0.9"/>
<text x="0.00" y="0.00" font-size="8.0" text-anchor="middle" font-weight="normal" fill="#231f20" stroke="#231f20" stroke-width="0.22" transform="translate(296.45 300.70) scale(0.89 1)">25</text>
<line x1="313.34" y1="291.00" x2="313.34" y2="292.80" stroke="#4a4a4a" stroke-width="0.9"/>
<text x="0.00" y="0.00" font-size="8.0" text-anchor="middle" font-weight="normal" fill="#231f20" stroke="#231f20" stroke-width="0.22" transform="translate(313.34 300.70) scale(0.89 1)">30</text>
<line x1="330.23" y1="291.00" x2="330.23" y2="292.80" stroke="#4a4a4a" stroke-width="0.9"/>
<text x="0.00" y="0.00" font-size="8.0" text-anchor="middle" font-weight="normal" fill="#231f20" stroke="#231f20" stroke-width="0.22" transform="translate(330.23 300.70) scale(0.89 1)">35</text>
<line x1="347.12" y1="291.00" x2="347.12" y2="292.80" stroke="#4a4a4a" stroke-width="0.9"/>
<text x="0.00" y="0.00" font-size="8.0" text-anchor="middle" font-weight="normal" fill="#231f20" stroke="#231f20" stroke-width="0.22" transform="translate(347.12 300.70) scale(0.89 1)">40</text>
<text x="279.30" y="309.70" font-size="7.0" text-anchor="middle" font-weight="normal" fill="#231f20" stroke="#231f20" stroke-width="0.22">Day</text>
<text x="194.40" y="245.35" font-size="7.17" text-anchor="middle" font-weight="normal" fill="#231f20" stroke="#231f20" stroke-width="0.22" transform="rotate(-90 194.40 245.35)">Median weight change (%)</text>
<polyline points="215.38,245.60 218.76,245.60 222.13,245.60 225.51,245.15 228.89,244.24 232.27,243.78 235.65,247.42 239.02,246.73 242.40,245.60 245.78,246.28 249.16,249.00 252.54,248.32 255.91,241.29 259.29,239.47 262.67,243.33 266.05,245.60 269.43,241.29 272.80,234.25 276.18,233.80 279.56,233.80 282.94,233.80 286.32,233.80 289.69,233.80 293.07,233.80 296.45,236.07 299.83,233.12 303.21,230.84 306.58,226.31 309.96,224.72 313.34,228.12 316.72,227.67 320.10,224.72 323.47,225.40 326.85,226.31 330.23,222.90" fill="none" stroke="#b0505c" stroke-width="0.7" stroke-linejoin="round"/>
<circle cx="215.38" cy="245.60" r="0.7" fill="#7a2030"/>
<circle cx="218.76" cy="245.60" r="0.7" fill="#7a2030"/>
<circle cx="222.13" cy="245.60" r="0.7" fill="#7a2030"/>
<circle cx="225.51" cy="245.15" r="0.7" fill="#7a2030"/>
<circle cx="228.89" cy="244.24" r="0.7" fill="#7a2030"/>
<circle cx="232.27" cy="243.78" r="0.7" fill="#7a2030"/>
<circle cx="235.65" cy="247.42" r="0.7" fill="#7a2030"/>
<circle cx="239.02" cy="246.73" r="0.7" fill="#7a2030"/>
<circle cx="242.40" cy="245.60" r="0.7" fill="#7a2030"/>
<circle cx="245.78" cy="246.28" r="0.7" fill="#7a2030"/>
<circle cx="249.16" cy="249.00" r="0.7" fill="#7a2030"/>
<circle cx="252.54" cy="248.32" r="0.7" fill="#7a2030"/>
<circle cx="255.91" cy="241.29" r="0.7" fill="#7a2030"/>
<circle cx="259.29" cy="239.47" r="0.7" fill="#7a2030"/>
<circle cx="262.67" cy="243.33" r="0.7" fill="#7a2030"/>
<circle cx="266.05" cy="245.60" r="0.7" fill="#7a2030"/>
<circle cx="269.43" cy="241.29" r="0.7" fill="#7a2030"/>
<circle cx="272.80" cy="234.25" r="0.7" fill="#7a2030"/>
<circle cx="276.18" cy="233.80" r="0.7" fill="#7a2030"/>
<circle cx="279.56" cy="233.80" r="0.7" fill="#7a2030"/>
<circle cx="282.94" cy="233.80" r="0.7" fill="#7a2030"/>
<circle cx="286.32" cy="233.80" r="0.7" fill="#7a2030"/>
<circle cx="289.69" cy="233.80" r="0.7" fill="#7a2030"/>
<circle cx="293.07" cy="233.80" r="0.7" fill="#7a2030"/>
<circle cx="296.45" cy="236.07" r="0.7" fill="#7a2030"/>
<circle cx="299.83" cy="233.12" r="0.7" fill="#7a2030"/>
<circle cx="303.21" cy="230.84" r="0.7" fill="#7a2030"/>
<circle cx="306.58" cy="226.31" r="0.7" fill="#7a2030"/>
<circle cx="309.96" cy="224.72" r="0.7" fill="#7a2030"/>
<circle cx="313.34" cy="228.12" r="0.7" fill="#7a2030"/>
<circle cx="316.72" cy="227.67" r="0.7" fill="#7a2030"/>
<circle cx="320.10" cy="224.72" r="0.7" fill="#7a2030"/>
<circle cx="323.47" cy="225.40" r="0.7" fill="#7a2030"/>
<circle cx="326.85" cy="226.31" r="0.7" fill="#7a2030"/>
<circle cx="330.23" cy="222.90" r="0.7" fill="#7a2030"/>
<polyline points="215.38,245.60 218.76,247.42 222.13,246.73 225.51,252.41 228.89,245.60 232.27,242.88 235.65,252.41 239.02,251.50 242.40,249.00 245.78,246.73 249.16,251.28 252.54,248.32 255.91,246.96 259.29,251.73 262.67,246.73 266.05,248.32 269.43,246.73 272.80,250.59 276.18,235.61 279.56,239.47 282.94,240.38 286.32,239.92 289.69,238.79 293.07,237.66 296.45,243.10 299.83,237.66 303.21,236.97 306.58,236.52 309.96,234.25 313.34,235.38 316.72,231.98 320.10,233.12 323.47,230.84 326.85,231.98 330.23,232.21" fill="none" stroke="#5a9fb0" stroke-width="0.7" stroke-linejoin="round"/>
<circle cx="215.38" cy="245.60" r="0.7" fill="#3a7a8a"/>
<circle cx="218.76" cy="247.42" r="0.7" fill="#3a7a8a"/>
<circle cx="222.13" cy="246.73" r="0.7" fill="#3a7a8a"/>
<circle cx="225.51" cy="252.41" r="0.7" fill="#3a7a8a"/>
<circle cx="228.89" cy="245.60" r="0.7" fill="#3a7a8a"/>
<circle cx="232.27" cy="242.88" r="0.7" fill="#3a7a8a"/>
<circle cx="235.65" cy="252.41" r="0.7" fill="#3a7a8a"/>
<circle cx="239.02" cy="251.50" r="0.7" fill="#3a7a8a"/>
<circle cx="242.40" cy="249.00" r="0.7" fill="#3a7a8a"/>
<circle cx="245.78" cy="246.73" r="0.7" fill="#3a7a8a"/>
<circle cx="249.16" cy="251.28" r="0.7" fill="#3a7a8a"/>
<circle cx="252.54" cy="248.32" r="0.7" fill="#3a7a8a"/>
<circle cx="255.91" cy="246.96" r="0.7" fill="#3a7a8a"/>
<circle cx="259.29" cy="251.73" r="0.7" fill="#3a7a8a"/>
<circle cx="262.67" cy="246.73" r="0.7" fill="#3a7a8a"/>
<circle cx="266.05" cy="248.32" r="0.7" fill="#3a7a8a"/>
<circle cx="269.43" cy="246.73" r="0.7" fill="#3a7a8a"/>
<circle cx="272.80" cy="250.59" r="0.7" fill="#3a7a8a"/>
<circle cx="276.18" cy="235.61" r="0.7" fill="#3a7a8a"/>
<circle cx="279.56" cy="239.47" r="0.7" fill="#3a7a8a"/>
<circle cx="282.94" cy="240.38" r="0.7" fill="#3a7a8a"/>
<circle cx="286.32" cy="239.92" r="0.7" fill="#3a7a8a"/>
<circle cx="289.69" cy="238.79" r="0.7" fill="#3a7a8a"/>
<circle cx="293.07" cy="237.66" r="0.7" fill="#3a7a8a"/>
<circle cx="296.45" cy="243.10" r="0.7" fill="#3a7a8a"/>
<circle cx="299.83" cy="237.66" r="0.7" fill="#3a7a8a"/>
<circle cx="303.21" cy="236.97" r="0.7" fill="#3a7a8a"/>
<circle cx="306.58" cy="236.52" r="0.7" fill="#3a7a8a"/>
<circle cx="309.96" cy="234.25" r="0.7" fill="#3a7a8a"/>
<circle cx="313.34" cy="235.38" r="0.7" fill="#3a7a8a"/>
<circle cx="316.72" cy="231.98" r="0.7" fill="#3a7a8a"/>
<circle cx="320.10" cy="233.12" r="0.7" fill="#3a7a8a"/>
<circle cx="323.47" cy="230.84" r="0.7" fill="#3a7a8a"/>
<circle cx="326.85" cy="231.98" r="0.7" fill="#3a7a8a"/>
<circle cx="330.23" cy="232.21" r="0.7" fill="#3a7a8a"/>
<polyline points="215.38,245.60 218.76,248.55 222.13,246.73 225.51,254.23 228.89,244.47 232.27,242.88 235.65,250.59 239.02,248.55 242.40,245.60 245.78,246.05 249.16,252.18 252.54,248.32 255.91,245.60 259.29,247.87 262.67,245.60 266.05,248.32 269.43,247.42 272.80,245.60 276.18,242.65 279.56,241.74 282.94,240.83 286.32,239.24 289.69,238.11 293.07,236.29 296.45,242.19 299.83,235.38 303.21,236.29 306.58,235.38 309.96,233.12 313.34,234.25 316.72,230.84 320.10,228.57 323.47,230.84 326.85,228.57 330.23,222.90" fill="none" stroke="#333" stroke-width="0.7" stroke-linejoin="round"/>
<circle cx="215.38" cy="245.60" r="0.7" fill="#111"/>
<circle cx="218.76" cy="248.55" r="0.7" fill="#111"/>
<circle cx="222.13" cy="246.73" r="0.7" fill="#111"/>
<circle cx="225.51" cy="254.23" r="0.7" fill="#111"/>
<circle cx="228.89" cy="244.47" r="0.7" fill="#111"/>
<circle cx="232.27" cy="242.88" r="0.7" fill="#111"/>
<circle cx="235.65" cy="250.59" r="0.7" fill="#111"/>
<circle cx="239.02" cy="248.55" r="0.7" fill="#111"/>
<circle cx="242.40" cy="245.60" r="0.7" fill="#111"/>
<circle cx="245.78" cy="246.05" r="0.7" fill="#111"/>
<circle cx="249.16" cy="252.18" r="0.7" fill="#111"/>
<circle cx="252.54" cy="248.32" r="0.7" fill="#111"/>
<circle cx="255.91" cy="245.60" r="0.7" fill="#111"/>
<circle cx="259.29" cy="247.87" r="0.7" fill="#111"/>
<circle cx="262.67" cy="245.60" r="0.7" fill="#111"/>
<circle cx="266.05" cy="248.32" r="0.7" fill="#111"/>
<circle cx="269.43" cy="247.42" r="0.7" fill="#111"/>
<circle cx="272.80" cy="245.60" r="0.7" fill="#111"/>
<circle cx="276.18" cy="242.65" r="0.7" fill="#111"/>
<circle cx="279.56" cy="241.74" r="0.7" fill="#111"/>
<circle cx="282.94" cy="240.83" r="0.7" fill="#111"/>
<circle cx="286.32" cy="239.24" r="0.7" fill="#111"/>
<circle cx="289.69" cy="238.11" r="0.7" fill="#111"/>
<circle cx="293.07" cy="236.29" r="0.7" fill="#111"/>
<circle cx="296.45" cy="242.19" r="0.7" fill="#111"/>
<circle cx="299.83" cy="235.38" r="0.7" fill="#111"/>
<circle cx="303.21" cy="236.29" r="0.7" fill="#111"/>
<circle cx="306.58" cy="235.38" r="0.7" fill="#111"/>
<circle cx="309.96" cy="233.12" r="0.7" fill="#111"/>
<circle cx="313.34" cy="234.25" r="0.7" fill="#111"/>
<circle cx="316.72" cy="230.84" r="0.7" fill="#111"/>
<circle cx="320.10" cy="228.57" r="0.7" fill="#111"/>
<circle cx="323.47" cy="230.84" r="0.7" fill="#111"/>
<circle cx="326.85" cy="228.57" r="0.7" fill="#111"/>
<circle cx="330.23" cy="222.90" r="0.7" fill="#111"/>
<line x1="214.70" y1="200.20" x2="221.30" y2="200.20" stroke="#222" stroke-width="0.8"/>
<circle cx="218.50" cy="200.20" r="1.0" fill="#111"/>
<text x="222.70" y="202.70" font-size="6.5" text-anchor="start" font-weight="normal" fill="#231f20" stroke="#231f20" stroke-width="0.22">Vehicle control</text>
<line x1="214.70" y1="210.10" x2="221.30" y2="210.10" stroke="#8fc0cc" stroke-width="0.8"/>
<circle cx="218.50" cy="210.10" r="1.0" fill="#3a7a8a"/>
<text x="222.70" y="212.60" font-size="6.5" text-anchor="start" font-weight="normal" fill="#231f20" stroke="#231f20" stroke-width="0.22">BI-3406, 12 mg/kg, bid</text>
<line x1="214.70" y1="220.00" x2="221.30" y2="220.00" stroke="#c88890" stroke-width="0.8"/>
<circle cx="218.50" cy="220.00" r="1.0" fill="#5a2030"/>
<text x="222.70" y="222.50" font-size="6.5" text-anchor="start" font-weight="normal" fill="#231f20" stroke="#231f20" stroke-width="0.22">BI-3406, 50 mg/kg, bid</text>
<text x="364.90" y="180.90" font-size="11.6" text-anchor="start" font-weight="bold" fill="#111" stroke="#111" stroke-width="0.35">F</text>
<text x="401.20" y="181.30" font-size="7.2" text-anchor="start" font-weight="normal" fill="#231f20" stroke="#231f20" stroke-width="0.22">KRAS-mutant xenograft models</text>
<line x1="385.20" y1="202.30" x2="385.20" y2="292.75" stroke="#4a4a4a" stroke-width="0.9"/>
<line x1="384.75" y1="292.30" x2="518.60" y2="292.30" stroke="#4a4a4a" stroke-width="0.9"/>
<line x1="383.40" y1="292.30" x2="385.20" y2="292.30" stroke="#4a4a4a" stroke-width="0.9"/>
<text x="381.40" y="294.50" font-size="6.1" text-anchor="end" font-weight="normal" fill="#231f20" stroke="#231f20" stroke-width="0.22">0</text>
<line x1="383.40" y1="274.34" x2="385.20" y2="274.34" stroke="#4a4a4a" stroke-width="0.9"/>
<text x="381.40" y="276.54" font-size="6.1" text-anchor="end" font-weight="normal" fill="#231f20" stroke="#231f20" stroke-width="0.22">2</text>
<line x1="383.40" y1="256.38" x2="385.20" y2="256.38" stroke="#4a4a4a" stroke-width="0.9"/>
<text x="381.40" y="258.58" font-size="6.1" text-anchor="end" font-weight="normal" fill="#231f20" stroke="#231f20" stroke-width="0.22">4</text>
<line x1="383.40" y1="238.42" x2="385.20" y2="238.42" stroke="#4a4a4a" stroke-width="0.9"/>
<text x="381.40" y="240.62" font-size="6.1" text-anchor="end" font-weight="normal" fill="#231f20" stroke="#231f20" stroke-width="0.22">6</text>
<line x1="383.40" y1="220.46" x2="385.20" y2="220.46" stroke="#4a4a4a" stroke-width="0.9"/>
<text x="381.40" y="222.66" font-size="6.1" text-anchor="end" font-weight="normal" fill="#231f20" stroke="#231f20" stroke-width="0.22">8</text>
<line x1="383.40" y1="202.50" x2="385.20" y2="202.50" stroke="#4a4a4a" stroke-width="0.9"/>
<text x="381.40" y="204.70" font-size="6.1" text-anchor="end" font-weight="normal" fill="#231f20" stroke="#231f20" stroke-width="0.22">10</text>
<line x1="396.40" y1="292.30" x2="396.40" y2="294.10" stroke="#4a4a4a" stroke-width="0.9"/>
<line x1="412.45" y1="292.30" x2="412.45" y2="294.10" stroke="#4a4a4a" stroke-width="0.9"/>
<line x1="428.50" y1="292.30" x2="428.50" y2="294.10" stroke="#4a4a4a" stroke-width="0.9"/>
<line x1="444.55" y1="292.30" x2="444.55" y2="294.10" stroke="#4a4a4a" stroke-width="0.9"/>
<line x1="460.60" y1="292.30" x2="460.60" y2="294.10" stroke="#4a4a4a" stroke-width="0.9"/>
<line x1="476.65" y1="292.30" x2="476.65" y2="294.10" stroke="#4a4a4a" stroke-width="0.9"/>
<line x1="492.70" y1="292.30" x2="492.70" y2="294.10" stroke="#4a4a4a" stroke-width="0.9"/>
<line x1="508.75" y1="292.30" x2="508.75" y2="294.10" stroke="#4a4a4a" stroke-width="0.9"/>
<text x="397.70" y="299.80" font-size="6.05" text-anchor="end" font-weight="normal" fill="#231f20" stroke="#231f20" stroke-width="0.22" transform="rotate(-45 397.70 299.80)">SW620 vehicle</text>
<text x="413.75" y="299.80" font-size="6.05" text-anchor="end" font-weight="normal" fill="#231f20" stroke="#231f20" stroke-width="0.22" transform="rotate(-45 413.75 299.80)">SW620 BI-3406</text>
<text x="429.80" y="299.80" font-size="6.05" text-anchor="end" font-weight="normal" fill="#231f20" stroke="#231f20" stroke-width="0.22" transform="rotate(-45 429.80 299.80)">LoVo vehicle</text>
<text x="445.85" y="299.80" font-size="6.05" text-anchor="end" font-weight="normal" fill="#231f20" stroke="#231f20" stroke-width="0.22" transform="rotate(-45 445.85 299.80)">LoVo BI-3406</text>
<text x="461.90" y="299.80" font-size="6.05" text-anchor="end" font-weight="normal" fill="#231f20" stroke="#231f20" stroke-width="0.22" transform="rotate(-45 461.90 299.80)">MIA PaCa-2 vehicle</text>
<text x="477.95" y="299.80" font-size="6.05" text-anchor="end" font-weight="normal" fill="#231f20" stroke="#231f20" stroke-width="0.22" transform="rotate(-45 477.95 299.80)">MIA PaCa-2 BI-3406</text>
<text x="494.00" y="299.80" font-size="6.05" text-anchor="end" font-weight="normal" fill="#231f20" stroke="#231f20" stroke-width="0.22" transform="rotate(-45 494.00 299.80)">A549 vehicle</text>
<text x="510.05" y="299.80" font-size="6.05" text-anchor="end" font-weight="normal" fill="#231f20" stroke="#231f20" stroke-width="0.22" transform="rotate(-45 510.05 299.80)">A549 BI-3406</text>
<text x="370.50" y="247.75" font-size="7.2" text-anchor="middle" font-weight="normal" fill="#231f20" stroke="#231f20" stroke-width="0.22" transform="rotate(-90 370.50 247.75)">Single relative tumor volume</text>
<line x1="396.30" y1="206.40" x2="396.30" y2="236.20" stroke="#4a4a4a" stroke-width="0.75"/>
<line x1="393.30" y1="206.40" x2="399.30" y2="206.40" stroke="#4a4a4a" stroke-width="0.75"/>
<line x1="393.30" y1="236.20" x2="399.30" y2="236.20" stroke="#4a4a4a" stroke-width="0.75"/>
<circle cx="396.20" cy="203.20" r="1.9" fill="#111"/>
<circle cx="392.40" cy="211.40" r="1.9" fill="#111"/>
<circle cx="396.60" cy="212.20" r="1.9" fill="#111"/>
<circle cx="400.40" cy="211.60" r="1.9" fill="#111"/>
<circle cx="392.40" cy="221.20" r="1.9" fill="#111"/>
<circle cx="396.60" cy="220.00" r="1.9" fill="#111"/>
<circle cx="400.20" cy="221.60" r="1.9" fill="#111"/>
<circle cx="396.20" cy="239.40" r="1.9" fill="#111"/>
<circle cx="396.20" cy="250.60" r="1.9" fill="#111"/>
<line x1="412.30" y1="236.30" x2="412.30" y2="267.70" stroke="#4a4a4a" stroke-width="0.75"/>
<line x1="409.30" y1="236.30" x2="415.30" y2="236.30" stroke="#4a4a4a" stroke-width="0.75"/>
<line x1="409.30" y1="267.70" x2="415.30" y2="267.70" stroke="#4a4a4a" stroke-width="0.75"/>
<line x1="407.05" y1="252.10" x2="417.55" y2="252.10" stroke="#4a4a4a" stroke-width="0.75"/>
<circle cx="411.80" cy="231.60" r="1.75" fill="#9a3440"/>
<circle cx="411.80" cy="235.70" r="1.75" fill="#9a3440"/>
<circle cx="408.60" cy="248.00" r="1.75" fill="#9a3440"/>
<circle cx="415.80" cy="250.60" r="1.75" fill="#9a3440"/>
<circle cx="411.80" cy="258.90" r="1.75" fill="#9a3440"/>
<circle cx="411.80" cy="263.00" r="1.75" fill="#9a3440"/>
<circle cx="411.80" cy="276.00" r="1.75" fill="#9a3440"/>
<line x1="428.30" y1="243.00" x2="428.30" y2="256.00" stroke="#4a4a4a" stroke-width="0.75"/>
<line x1="425.30" y1="243.00" x2="431.30" y2="243.00" stroke="#4a4a4a" stroke-width="0.75"/>
<line x1="425.30" y1="256.00" x2="431.30" y2="256.00" stroke="#4a4a4a" stroke-width="0.75"/>
<line x1="423.05" y1="249.20" x2="433.55" y2="249.20" stroke="#4a4a4a" stroke-width="0.75"/>
<circle cx="424.80" cy="244.10" r="1.8" fill="#111"/>
<circle cx="428.90" cy="241.80" r="1.8" fill="#111"/>
<circle cx="432.40" cy="242.50" r="1.8" fill="#111"/>
<circle cx="425.20" cy="250.70" r="1.8" fill="#111"/>
<circle cx="429.30" cy="250.10" r="1.8" fill="#111"/>
<circle cx="428.90" cy="255.40" r="1.8" fill="#111"/>
<circle cx="428.30" cy="260.30" r="1.8" fill="#111"/>
<line x1="444.40" y1="264.60" x2="444.40" y2="277.80" stroke="#4a4a4a" stroke-width="0.75"/>
<line x1="441.90" y1="264.60" x2="446.90" y2="264.60" stroke="#4a4a4a" stroke-width="0.75"/>
<line x1="441.90" y1="277.80" x2="446.90" y2="277.80" stroke="#4a4a4a" stroke-width="0.75"/>
<line x1="441.40" y1="271.20" x2="447.40" y2="271.20" stroke="#4a4a4a" stroke-width="0.75"/>
<circle cx="444.40" cy="262.10" r="1.65" fill="#9a3440"/>
<circle cx="440.90" cy="266.80" r="1.65" fill="#9a3440"/>
<circle cx="447.90" cy="269.00" r="1.65" fill="#9a3440"/>
<circle cx="440.90" cy="271.90" r="1.65" fill="#9a3440"/>
<circle cx="447.90" cy="274.40" r="1.65" fill="#9a3440"/>
<circle cx="444.40" cy="279.30" r="1.65" fill="#9a3440"/>
<line x1="460.40" y1="217.50" x2="460.40" y2="253.60" stroke="#4a4a4a" stroke-width="0.75"/>
<line x1="457.30" y1="217.50" x2="463.50" y2="217.50" stroke="#4a4a4a" stroke-width="0.75"/>
<line x1="457.30" y1="253.60" x2="463.50" y2="253.60" stroke="#4a4a4a" stroke-width="0.75"/>
<line x1="454.70" y1="236.00" x2="466.10" y2="236.00" stroke="#4a4a4a" stroke-width="0.75"/>
<circle cx="460.80" cy="212.60" r="1.85" fill="#111"/>
<circle cx="457.10" cy="224.50" r="1.85" fill="#111"/>
<circle cx="464.30" cy="222.60" r="1.85" fill="#111"/>
<circle cx="464.30" cy="227.20" r="1.85" fill="#111"/>
<circle cx="456.90" cy="248.80" r="1.85" fill="#111"/>
<circle cx="464.70" cy="250.80" r="1.85" fill="#111"/>
<circle cx="460.20" cy="262.80" r="1.85" fill="#111"/>
<line x1="476.60" y1="271.40" x2="476.60" y2="276.00" stroke="#4a4a4a" stroke-width="0.75"/>
<line x1="474.35" y1="271.40" x2="478.85" y2="271.40" stroke="#4a4a4a" stroke-width="0.75"/>
<line x1="474.35" y1="276.00" x2="478.85" y2="276.00" stroke="#4a4a4a" stroke-width="0.75"/>
<line x1="472.10" y1="273.80" x2="481.10" y2="273.80" stroke="#4a4a4a" stroke-width="0.75"/>
<circle cx="472.90" cy="270.60" r="1.55" fill="#9a3440"/>
<circle cx="478.20" cy="270.20" r="1.55" fill="#9a3440"/>
<circle cx="480.50" cy="268.80" r="1.55" fill="#9a3440"/>
<circle cx="475.20" cy="273.60" r="1.55" fill="#9a3440"/>
<circle cx="472.90" cy="276.90" r="1.55" fill="#9a3440"/>
<circle cx="475.80" cy="276.90" r="1.55" fill="#9a3440"/>
<circle cx="480.30" cy="276.90" r="1.55" fill="#9a3440"/>
<line x1="492.80" y1="236.40" x2="492.80" y2="265.70" stroke="#4a4a4a" stroke-width="0.75"/>
<line x1="490.55" y1="236.40" x2="495.05" y2="236.40" stroke="#4a4a4a" stroke-width="0.75"/>
<line x1="490.55" y1="265.70" x2="495.05" y2="265.70" stroke="#4a4a4a" stroke-width="0.75"/>
<line x1="487.70" y1="251.30" x2="497.90" y2="251.30" stroke="#4a4a4a" stroke-width="0.75"/>
<circle cx="489.10" cy="232.00" r="1.85" fill="#111"/>
<circle cx="496.40" cy="233.40" r="1.85" fill="#111"/>
<circle cx="492.90" cy="242.50" r="1.85" fill="#111"/>
<circle cx="492.90" cy="256.00" r="1.85" fill="#111"/>
<circle cx="489.10" cy="260.40" r="1.85" fill="#111"/>
<circle cx="496.40" cy="263.80" r="1.85" fill="#111"/>
<circle cx="492.90" cy="269.20" r="1.85" fill="#111"/>
<line x1="509.20" y1="278.30" x2="509.20" y2="282.00" stroke="#4a4a4a" stroke-width="0.75"/>
<line x1="506.95" y1="278.30" x2="511.45" y2="278.30" stroke="#4a4a4a" stroke-width="0.75"/>
<line x1="506.95" y1="282.00" x2="511.45" y2="282.00" stroke="#4a4a4a" stroke-width="0.75"/>
<line x1="504.70" y1="280.10" x2="513.70" y2="280.10" stroke="#4a4a4a" stroke-width="0.75"/>
<circle cx="505.70" cy="281.20" r="1.5" fill="#9a3440"/>
<circle cx="508.40" cy="277.50" r="1.5" fill="#9a3440"/>
<circle cx="511.60" cy="276.90" r="1.5" fill="#9a3440"/>
<circle cx="513.10" cy="280.60" r="1.5" fill="#9a3440"/>
<circle cx="509.40" cy="280.60" r="1.5" fill="#9a3440"/>
<circle cx="506.80" cy="282.80" r="1.5" fill="#9a3440"/>
<circle cx="512.60" cy="282.80" r="1.5" fill="#9a3440"/>
<text x="396.70" y="193.40" font-size="6.95" text-anchor="start" font-weight="normal" fill="#231f20" stroke="#231f20" stroke-width="0.22">TGI 61</text>
<line x1="398.70" y1="199.20" x2="411.90" y2="199.20" stroke="#4a4a4a" stroke-width="0.8"/>
<circle cx="403.85" cy="196.90" r="0.9" fill="#333"/>
<circle cx="406.75" cy="196.90" r="0.9" fill="#333"/>
<text x="424.90" y="224.80" font-size="6.95" text-anchor="start" font-weight="normal" fill="#231f20" stroke="#231f20" stroke-width="0.22">TGI 62</text>
<line x1="428.40" y1="232.70" x2="441.60" y2="232.70" stroke="#4a4a4a" stroke-width="0.8"/>
<circle cx="432.10" cy="229.40" r="0.9" fill="#333"/>
<circle cx="435.00" cy="229.40" r="0.9" fill="#333"/>
<circle cx="437.90" cy="229.40" r="0.9" fill="#333"/>
<text x="462.00" y="200.40" font-size="6.95" text-anchor="start" font-weight="normal" fill="#231f20" stroke="#231f20" stroke-width="0.22">TGI 86</text>
<line x1="465.50" y1="207.40" x2="478.40" y2="207.40" stroke="#4a4a4a" stroke-width="0.8"/>
<circle cx="469.05" cy="203.90" r="0.9" fill="#333"/>
<circle cx="471.95" cy="203.90" r="0.9" fill="#333"/>
<circle cx="474.85" cy="203.90" r="0.9" fill="#333"/>
<text x="496.30" y="218.90" font-size="6.95" text-anchor="start" font-weight="normal" fill="#231f20" stroke="#231f20" stroke-width="0.22">TGI 89</text>
<line x1="501.30" y1="225.30" x2="514.40" y2="225.30" stroke="#4a4a4a" stroke-width="0.8"/>
<circle cx="504.95" cy="222.10" r="0.9" fill="#333"/>
<circle cx="507.85" cy="222.10" r="0.9" fill="#333"/>
<circle cx="510.75" cy="222.10" r="0.9" fill="#333"/>
</svg></body></html>
